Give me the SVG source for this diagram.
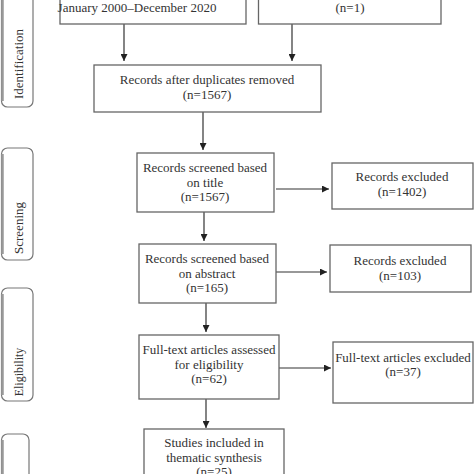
<svg xmlns="http://www.w3.org/2000/svg" width="474" height="474" viewBox="0 0 474 474">
<defs>
<marker id="ah" viewBox="0 0 10 10" refX="10" refY="5" markerWidth="7" markerHeight="7" markerUnits="userSpaceOnUse" orient="auto">
<path d="M0,0 L10,5 L0,10 z" fill="#222"/>
</marker>
<style>
.box{fill:#fff;stroke:#666;stroke-width:1.3}
.side{fill:#fff;stroke:#777;stroke-width:1.2}
.sideedge{stroke:#999;stroke-width:2.5;fill:none}
.t{font-family:"Liberation Serif","Times New Roman",serif;font-size:13px;fill:#333;text-anchor:middle}
.st{font-family:"Liberation Serif","Times New Roman",serif;font-size:13px;fill:#333;text-anchor:middle}
.c{stroke:#333;stroke-width:1.2;fill:none;marker-end:url(#ah)}
</style>
</defs>
<rect width="474" height="474" fill="#fff"/>
<g id="side-identification">
<rect class="side" x="1.5" y="-20" width="31.5" height="127" rx="6"/>
<line class="sideedge" x1="2.5" y1="-20" x2="2.5" y2="101"/>
<text class="st" transform="translate(23,64) rotate(-90)">Identification</text>
</g>
<g id="side-screening">
<rect class="side" x="1.5" y="148" width="31.5" height="112" rx="6"/>
<line class="sideedge" x1="2.5" y1="154" x2="2.5" y2="254"/>
<text class="st" transform="translate(23,228) rotate(-90)">Screening</text>
</g>
<g id="side-eligibility">
<rect class="side" x="1.5" y="288" width="31.5" height="113" rx="6"/>
<line class="sideedge" x1="2.5" y1="294" x2="2.5" y2="395"/>
<text class="st" style="font-size:12px" transform="translate(23,372) rotate(-90)">Eligibility</text>
</g>
<g id="side-included">
<rect class="side" x="1.5" y="434" width="27.5" height="60" rx="6"/>
<line class="sideedge" x1="2.5" y1="440" x2="2.5" y2="474"/>
</g>
<g id="connectors">
<line class="c" x1="124" y1="24" x2="124" y2="61"/>
<line class="c" x1="292" y1="24" x2="292" y2="61"/>
<line class="c" x1="203" y1="112" x2="203" y2="150"/>
<line class="c" x1="204" y1="212" x2="204" y2="241"/>
<line class="c" x1="206" y1="303" x2="206" y2="332"/>
<line class="c" x1="206" y1="399" x2="206" y2="428"/>
<line class="c" x1="276" y1="189" x2="329" y2="189"/>
<line class="c" x1="276" y1="272" x2="327" y2="272"/>
<line class="c" x1="279" y1="368" x2="331" y2="368"/>
</g>
<g id="n-db">
<rect class="box" x="60" y="-20" width="186" height="44"/>
<text class="t" x="137" y="12">January 2000–December 2020</text>
</g>
<g id="n-other">
<rect class="box" x="258.5" y="-20" width="182.5" height="44"/>
<text class="t" x="350" y="12">(n=1)</text>
</g>
<g id="n-dup">
<rect class="box" x="94" y="65" width="227" height="47"/>
<text class="t" x="207" y="84">Records after duplicates removed</text>
<text class="t" x="207" y="99">(n=1567)</text>
</g>
<g id="n-title">
<rect class="box" x="137" y="153" width="137" height="59"/>
<text class="t" x="205" y="172">Records screened based</text>
<text class="t" x="205" y="187">on title</text>
<text class="t" x="205" y="201">(n=1567)</text>
</g>
<g id="n-ex1">
<rect class="box" x="332" y="163" width="141" height="46"/>
<text class="t" x="402" y="181">Records excluded</text>
<text class="t" x="402" y="196">(n=1402)</text>
</g>
<g id="n-abstract">
<rect class="box" x="139" y="244" width="137" height="59"/>
<text class="t" x="207" y="263">Records screened based</text>
<text class="t" x="207" y="278">on abstract</text>
<text class="t" x="207" y="292">(n=165)</text>
</g>
<g id="n-ex2">
<rect class="box" x="330" y="245" width="141" height="47"/>
<text class="t" x="400" y="265">Records excluded</text>
<text class="t" x="400" y="280">(n=103)</text>
</g>
<g id="n-full">
<rect class="box" x="139" y="335" width="140" height="64"/>
<text class="t" x="209" y="354">Full-text articles assessed</text>
<text class="t" x="209" y="369">for eligibility</text>
<text class="t" x="209" y="383">(n=62)</text>
</g>
<g id="n-ex3">
<rect class="box" x="333" y="342" width="140" height="61"/>
<text class="t" x="403" y="362">Full-text articles excluded</text>
<text class="t" x="403" y="376">(n=37)</text>
</g>
<g id="n-included">
<rect class="box" x="144" y="429" width="140" height="60"/>
<text class="t" x="214" y="447">Studies included in</text>
<text class="t" x="214" y="462">thematic synthesis</text>
<text class="t" x="214" y="476">(n=25)</text>
</g>
</svg>
